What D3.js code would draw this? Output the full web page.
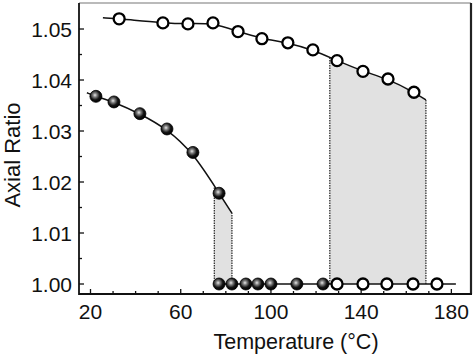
<!DOCTYPE html>
<html><head><meta charset="utf-8">
<script src="https://cdn.jsdelivr.net/npm/d3@7"></script>
<style>body{margin:0;background:#fff}svg{display:block}</style>
</head><body>
<script>
// ---- data ----
const upperT = [32.7, 52.1, 63.2, 74.3, 85.4, 96.0, 107.5, 118.6, 129.3, 140.8, 151.9, 163.4];
const upperRatio = [1.0520, 1.0512, 1.0510, 1.0512, 1.0495, 1.0481, 1.0473, 1.0459, 1.0438, 1.0417, 1.0402, 1.0376];
const upperLineStart = [25.5, 1.0522];
const upperLineEnd = [168.7, 1.0361];

const lowerT = [22.4, 30.4, 41.9, 53.9, 65.4, 77.0];
const lowerRatio = [1.0368, 1.0357, 1.0334, 1.0304, 1.0258, 1.0178];
const lowerLineStart = [18.4, 1.0375];
const lowerLineEnd = [82.7, 1.0139];

const baseFilledT = [77.0, 82.7, 88.9, 94.2, 100.0, 111.5, 123.1];
const baseOpenT = [129.3, 140.8, 151.4, 163.0, 173.6];
const baseRatio = 1.00;
const baseLineRange = [77, 182];

const shadeUpperT = [126.1, 129.3, 140.8, 151.9, 163.4, 168.7];
const shadeUpperR = [1.0445, 1.0437, 1.0418, 1.0400, 1.0378, 1.0361];
const shadeLowerT = [74.9, 77.0, 82.7];
const shadeLowerR = [1.0190, 1.0177, 1.0139];

const xTicksMajor = [20, 60, 100, 140, 180];
const xTicksAll = [20, 30, 40, 50, 60, 70, 80, 90, 100, 110, 120, 130, 140, 150, 160, 170, 180];
const yTicksMajor = [1.00, 1.01, 1.02, 1.03, 1.04, 1.05];
const yTicksMinor = [1.005, 1.015, 1.025, 1.035, 1.045];
const xTitle = "Temperature (°C)";
const yTitle = "Axial Ratio";

// ---- layout ----
const W = 474, H = 356;
const L = 79, R = 471, T = 3, B = 294;
const x = d3.scaleLinear().domain([14.9, 188.7]).range([L, R]);
const y = d3.scaleLinear().domain([0.99804, 1.0551]).range([B, T]);

const svg = d3.select("body").append("svg").attr("width", W).attr("height", H);
const defs = svg.append("defs");
const g = defs.append("radialGradient").attr("id", "ball").attr("cx", "42%").attr("cy", "40%").attr("r", "60%");
g.append("stop").attr("offset", "0%").attr("stop-color", "#e8e8e8");
g.append("stop").attr("offset", "28%").attr("stop-color", "#808080");
g.append("stop").attr("offset", "65%").attr("stop-color", "#151515");
g.append("stop").attr("offset", "100%").attr("stop-color", "#000");

svg.append("rect").attr("width", W).attr("height", H).attr("fill", "#fff");

// shaded areas
const area = d3.area().x(d => x(d[0])).y0(y(baseRatio)).y1(d => y(d[1])).curve(d3.curveMonotoneX);
[[shadeUpperT, shadeUpperR], [shadeLowerT, shadeLowerR]].forEach(([ts, rs]) => {
  const pts = ts.map((t, i) => [t, rs[i]]);
  svg.append("path").attr("d", area(pts)).attr("fill", "#e1e1e1");
  [pts[0], pts[pts.length - 1]].forEach(p => {
    svg.append("line").attr("x1", x(p[0])).attr("x2", x(p[0]))
      .attr("y1", y(baseRatio)).attr("y2", y(p[1]))
      .attr("stroke", "#333").attr("stroke-width", 1.3).attr("stroke-dasharray", "1.5,1");
  });
});

// frame
svg.append("line").attr("x1", L).attr("x2", R).attr("y1", T).attr("y2", T).attr("stroke", "#777").attr("stroke-width", 1.2);
svg.append("line").attr("x1", R).attr("x2", R).attr("y1", T).attr("y2", B).attr("stroke", "#222").attr("stroke-width", 2.2);

// fit lines
const line = d3.line().x(d => x(d[0])).y(d => y(d[1])).curve(d3.curveBasis);
const upperPts = [upperLineStart, ...upperT.map((t, i) => [t, upperRatio[i]]), upperLineEnd];
const lowerPts = [lowerLineStart, ...lowerT.map((t, i) => [t, lowerRatio[i]]), lowerLineEnd];
const basePts = baseLineRange.map(t => [t, baseRatio]);
[upperPts, lowerPts, basePts].forEach(p => {
  svg.append("path").attr("d", line(p)).attr("fill", "none").attr("stroke", "#111").attr("stroke-width", 1.5);
});

// axes
const fs = "21px";
const font = "'Liberation Sans', Arial, sans-serif";
svg.append("line").attr("x1", L).attr("x2", L).attr("y1", T).attr("y2", B + 1).attr("stroke", "#111").attr("stroke-width", 1.8);
svg.append("line").attr("x1", L).attr("x2", R + 1).attr("y1", B).attr("y2", B).attr("stroke", "#111").attr("stroke-width", 2);

yTicksMajor.forEach(v => {
  svg.append("line").attr("x1", L).attr("x2", L + 5).attr("y1", y(v)).attr("y2", y(v)).attr("stroke", "#111").attr("stroke-width", 1.3);
  svg.append("text").attr("x", 72).attr("y", y(v)).attr("dy", "0.36em").attr("text-anchor", "end")
    .attr("font-family", font).attr("font-size", fs).attr("fill", "#111").text(d3.format(".2f")(v));
});
yTicksMinor.forEach(v => {
  svg.append("line").attr("x1", L).attr("x2", L + 3).attr("y1", y(v)).attr("y2", y(v)).attr("stroke", "#111").attr("stroke-width", 1.3);
});
xTicksAll.forEach(v => {
  const len = xTicksMajor.includes(v) ? 5 : 3;
  svg.append("line").attr("x1", x(v)).attr("x2", x(v)).attr("y1", B).attr("y2", B - len).attr("stroke", "#111").attr("stroke-width", 1.3);
});
xTicksMajor.forEach(v => {
  svg.append("text").attr("x", x(v)).attr("y", 319).attr("text-anchor", "middle")
    .attr("font-family", font).attr("font-size", fs).attr("fill", "#111").text(v);
});
svg.append("text").attr("x", 296).attr("y", 349).attr("text-anchor", "middle")
  .attr("font-family", font).attr("font-size", "21.5px").attr("fill", "#111").text(xTitle);
svg.append("text").attr("transform", "translate(20,155) rotate(-90)").attr("text-anchor", "middle")
  .attr("font-family", font).attr("font-size", "22px").attr("fill", "#111").text(yTitle);

// markers
function openC(t, r) {
  svg.append("circle").attr("cx", x(t)).attr("cy", y(r)).attr("r", 5.5)
    .attr("fill", "#fff").attr("stroke", "#000").attr("stroke-width", 2.3);
}
function ball(t, r) {
  svg.append("circle").attr("cx", x(t)).attr("cy", y(r)).attr("r", 6)
    .attr("fill", "url(#ball)").attr("stroke", "#000").attr("stroke-width", 0.8);
}
upperT.forEach((t, i) => openC(t, upperRatio[i]));
lowerT.forEach((t, i) => ball(t, lowerRatio[i]));
baseFilledT.forEach(t => ball(t, baseRatio));
baseOpenT.forEach(t => openC(t, baseRatio));
</script>
</body></html>
